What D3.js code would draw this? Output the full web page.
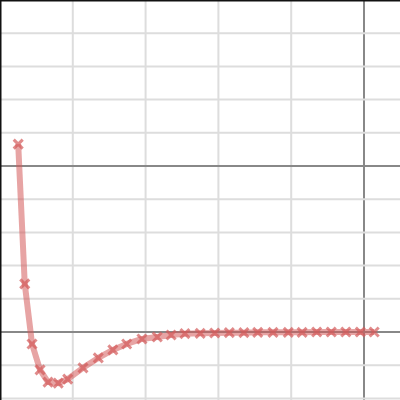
<!DOCTYPE html>
<html><head><meta charset="utf-8">
<script src="https://cdn.jsdelivr.net/npm/d3@7"></script>
<style>body{margin:0}svg{display:block}</style></head>
<body><svg id="c" width="400" height="400"></svg>
<script>
var xs = [0.25,0.34,0.44,0.55,0.66,0.80,0.93,1.14,1.35,1.55,1.74,1.95,2.16,2.35,2.54,2.75,2.95,3.15,3.35,3.54,3.75,3.96,4.15,4.35,4.55,4.75,4.95,5.14];
var ys = [5.66,1.45,-0.36,-1.14,-1.51,-1.54,-1.42,-1.08,-0.78,-0.54,-0.36,-0.21,-0.15,-0.09,-0.05,-0.04,-0.03,-0.02,-0.02,-0.01,-0.01,-0.01,-0.01,0,0,0,0,0];
var xGrid = [1,2,3,4,5];
var yGrid = [-2,-1,0,1,2,3,4,5,6,7,8,9,10];

var svg = d3.select("#c");
var x = d3.scaleLinear().domain([0, 5]).range([0, 364]);
var y = d3.scaleLinear().domain([0, 10]).range([332, 0]);

svg.selectAll(".gx").data(xGrid).enter().append("line")
    .attr("x1", d => x(d)).attr("x2", d => x(d)).attr("y1", 0).attr("y2", 400)
    .attr("stroke", d => d === 5 ? "#888" : "#ddd").attr("stroke-width", 2);
svg.selectAll(".gy").data(yGrid).enter().append("line")
    .attr("y1", d => y(d)).attr("y2", d => y(d)).attr("x1", 0).attr("x2", 400)
    .attr("stroke", d => (d === 0 || d === 5) ? "#888" : "#ddd").attr("stroke-width", 2);
svg.append("line").attr("x1", 0).attr("x2", 400).attr("y1", 0.5).attr("y2", 0.5).attr("stroke", "#111").attr("stroke-width", 2);
svg.append("line").attr("x1", 0.5).attr("x2", 0.5).attr("y1", 0).attr("y2", 400).attr("stroke", "#111").attr("stroke-width", 2);

var pts = xs.map((d, i) => [d, ys[i]]);
svg.append("path").datum(pts)
    .attr("d", d3.line().x(d => x(d[0])).y(d => y(d[1])))
    .attr("fill", "none").attr("stroke", "#d35a5a").attr("stroke-opacity", 0.55)
    .attr("stroke-width", 6).attr("stroke-linejoin", "round");
var s = 4.5;
svg.selectAll(".m").data(pts).enter().append("path")
    .attr("d", d => { var cx = x(d[0]), cy = y(d[1]);
        return "M" + (cx - s) + "," + (cy - s) + "L" + (cx + s) + "," + (cy + s) +
               "M" + (cx - s) + "," + (cy + s) + "L" + (cx + s) + "," + (cy - s); })
    .attr("stroke", "#d35a5a").attr("stroke-opacity", 0.7).attr("stroke-width", 3);
</script></body></html>
